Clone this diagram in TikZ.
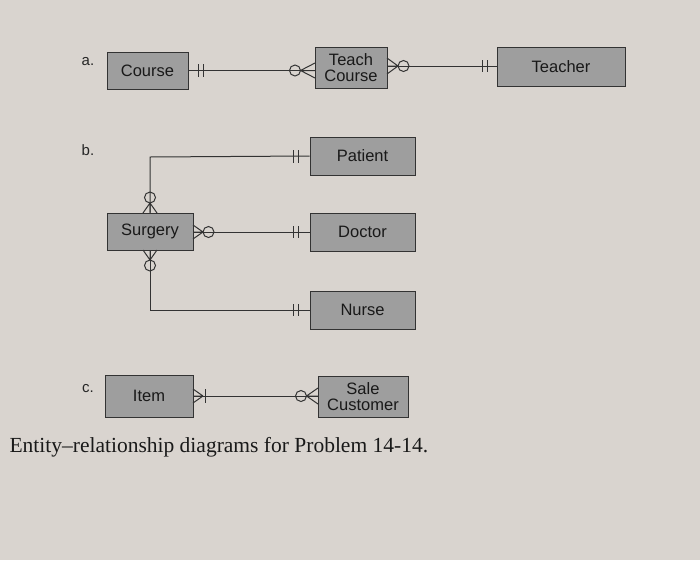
\documentclass[tikz,border=0pt]{standalone}
\usepackage{fontspec}
\setmainfont{Liberation Sans}
\newfontfamily\capfont{Liberation Serif}
\begin{document}
\begin{tikzpicture}[x=1pt,y=-1pt,
  ent/.style={draw=black!80,line width=1pt,fill=black!38,inner sep=0pt,font=\fontsize{16.5}{16}\selectfont,align=center,text=black!90},
  ln/.style={line width=1pt,draw=black!80},
  lab/.style={font=\fontsize{15}{16}\selectfont,text=black!85}]
\fill[black!14!white!92!brown] (0,0) rectangle (700,560);
\useasboundingbox (0,0) rectangle (700,560);
% nodes
\node[ent,minimum width=81,minimum height=37] (course) at (147.5,70.5) {Course};
\node[ent,minimum width=72,minimum height=41] (tc) at (351,67.5) {Teach\\Course};
\node[ent,minimum width=128,minimum height=39] (teacher) at (561,66.5) {Teacher};
\node[ent,minimum width=105,minimum height=38] (patient) at (362.5,156) {Patient};
\node[ent,minimum width=86,minimum height=37] (surgery) at (150,231.5) {Surgery};
\node[ent,minimum width=105,minimum height=38] (doctor) at (362.5,232) {Doctor};
\node[ent,minimum width=105,minimum height=38] (nurse) at (362.5,310) {Nurse};
\node[ent,minimum width=88,minimum height=42] (item) at (149,396) {Item};
\node[ent,minimum width=90,minimum height=41] (sc) at (363,396.5) {Sale\\Customer};
\node[lab] (la) at (88,62) {a.};
\node[lab] (lb) at (88,150) {b.};
\node[lab] (lc) at (88,389) {c.};
\node[anchor=west,font=\capfont\fontsize{21.5}{22}\selectfont,text=black!90] (cap) at (6,447) {Entity–relationship diagrams for Problem 14-14.};
% a
\draw[ln] (course.east) -- (tc.west |- course.east);
\draw[ln] (198,64)--(198,77) (203,64)--(203,77);
\draw[ln] (295,70.5) circle (5.5);
\draw[ln] (300.5,70.5)--(315,63) (300.5,70.5)--(315,70.5) (300.5,70.5)--(315,78);
\draw[ln] (tc.east |- 0,66) -- (teacher.west |- 0,66);
\draw[ln] (398,66)--(387,58) (398,66)--(387,66) (398,66)--(387,74);
\draw[ln] (403.5,66) circle (5.5);
\draw[ln] (482,60)--(482,72) (487,60)--(487,72);
% b
\draw[ln] (surgery.north) -- (150,157) -- (patient.west);
\draw[ln] (150,203)--(143,213) (150,203)--(150,213) (150,203)--(157,213);
\draw[ln] (150,197.5) circle (5.5);
\draw[ln] (293,150)--(293,163) (298,150)--(298,163);
\draw[ln] (surgery.east |- 0,232) -- (doctor.west);
\draw[ln] (203,232)--(193,225) (203,232)--(193,232) (203,232)--(193,239);
\draw[ln] (208.5,232) circle (5.5);
\draw[ln] (293,226)--(293,238) (298,226)--(298,238);
\draw[ln] (surgery.south) -- (150,310) -- (nurse.west);
\draw[ln] (150,260)--(143,250) (150,260)--(150,250) (150,260)--(157,250);
\draw[ln] (150,265.5) circle (5.5);
\draw[ln] (293,304)--(293,316) (298,304)--(298,316);
% c
\draw[ln] (item.east) -- (sc.west |- 0,396);
\draw[ln] (203,396)--(193,389) (203,396)--(193,396) (203,396)--(193,403);
\draw[ln] (205,389)--(205,403);
\draw[ln] (301,396) circle (5.5);
\draw[ln] (306.5,396)--(318,388) (306.5,396)--(318,396) (306.5,396)--(318,404);
\end{tikzpicture}
\end{document}
